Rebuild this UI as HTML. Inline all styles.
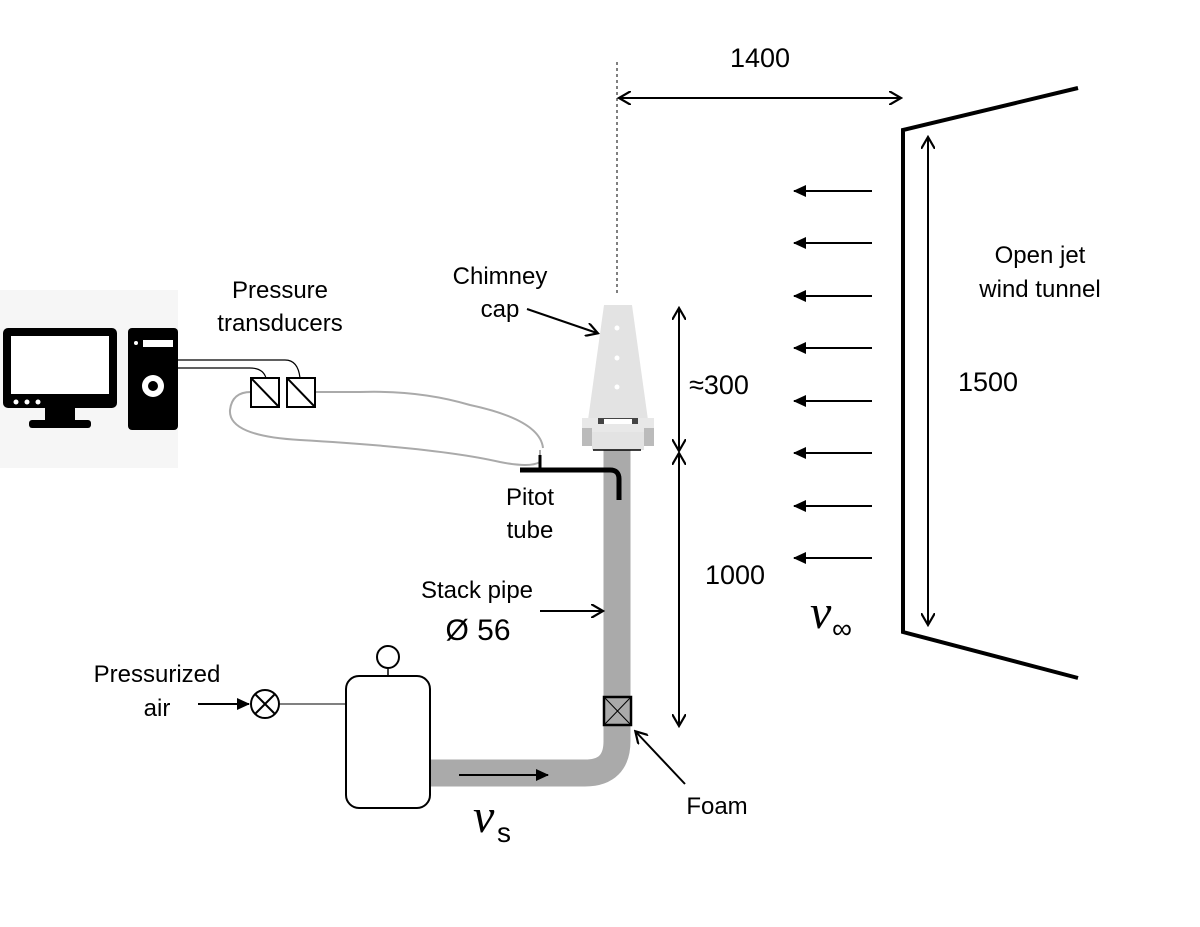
<!DOCTYPE html>
<html><head><meta charset="utf-8"><style>body{margin:0;background:#fff}svg{display:block}</style></head><body>
<svg width="1200" height="927" viewBox="0 0 1200 927" font-family="Liberation Sans, sans-serif" font-size="24">
<defs>
<marker id="a" markerWidth="14" markerHeight="14" refX="11" refY="7" orient="auto-start-reverse" markerUnits="userSpaceOnUse"><path d="M0,0 L12,7 L0,14" fill="none" stroke="#000" stroke-width="2.2"/></marker>
<marker id="f" markerWidth="14" markerHeight="12" refX="12" refY="6" orient="auto" markerUnits="userSpaceOnUse"><path d="M0,0 L13,6 L0,12Z" fill="#000"/></marker>
</defs>
<rect x="0" y="290" width="178" height="178" fill="#f6f6f6"/>
<rect x="3" y="328" width="114" height="80" rx="5" fill="#000"/>
<rect x="11" y="336" width="98" height="58" fill="#fff"/>
<circle cx="16" cy="402" r="2.5" fill="#fff"/><circle cx="27" cy="402" r="2.5" fill="#fff"/><circle cx="38" cy="402" r="2.5" fill="#fff"/>
<rect x="45" y="408" width="30" height="14" fill="#000"/>
<rect x="29" y="420" width="62" height="8" rx="3" fill="#000"/>
<rect x="128" y="328" width="50" height="102" rx="4" fill="#000"/>
<rect x="143" y="340" width="30" height="7" fill="#fff"/>
<circle cx="136" cy="343" r="2" fill="#fff"/>
<circle cx="153" cy="386" r="11" fill="#fff"/><circle cx="153" cy="386" r="5" fill="#000"/>
<path d="M178,360 H285 Q298,360 300,378" fill="none" stroke="#000" stroke-width="1.2"/>
<path d="M178,368 H250 Q263,368 266,378" fill="none" stroke="#000" stroke-width="1.2"/>
<path d="M251,392 Q232,392 230,410 Q228,436 300,440 Q440,448 500,462 Q530,468 540,462 V450" fill="none" stroke="#aaa" stroke-width="2"/>
<path d="M315,392 Q330,392 360,392 Q420,390 470,405 Q540,420 543,448" fill="none" stroke="#aaa" stroke-width="2"/>
<rect x="251" y="378" width="28" height="29" fill="#fff" stroke="#000" stroke-width="2"/>
<line x1="251" y1="378" x2="279" y2="407" stroke="#000" stroke-width="2"/>
<rect x="287" y="378" width="28" height="29" fill="#fff" stroke="#000" stroke-width="2"/>
<line x1="287" y1="378" x2="315" y2="407" stroke="#000" stroke-width="2"/>
<path d="M430,773 H585 Q617,773 617,741 V450" fill="none" stroke="#aaa" stroke-width="27"/>
<line x1="459" y1="775" x2="548" y2="775" stroke="#000" stroke-width="2" marker-end="url(#f)"/>
<rect x="604" y="697" width="27" height="28" fill="none" stroke="#000" stroke-width="2.5"/>
<path d="M604,697 L631,725 M631,697 L604,725" stroke="#000" stroke-width="1"/>
<path d="M520,470 H610 Q619,470 619,479 V500" fill="none" stroke="#000" stroke-width="5"/>
<line x1="540" y1="455" x2="540" y2="470" stroke="#000" stroke-width="3"/>
<line x1="617" y1="62" x2="617" y2="295" stroke="#000" stroke-dasharray="3,3" stroke-width="1"/>
<path d="M604,305 H632 L648,420 H588 Z" fill="#e3e3e3"/>
<circle cx="617" cy="328" r="2.5" fill="#fff"/><circle cx="617" cy="358" r="2.5" fill="#fff"/><circle cx="617" cy="387" r="2.5" fill="#fff"/>
<rect x="582" y="418" width="72" height="16" fill="#e8e8e8"/>
<rect x="598" y="418" width="40" height="6" fill="#444"/><rect x="604" y="419" width="28" height="5" fill="#fff"/>
<rect x="592" y="432" width="52" height="18" fill="#e3e3e3"/>
<rect x="582" y="428" width="10" height="18" fill="#bbb"/><rect x="644" y="428" width="10" height="18" fill="#bbb"/>
<line x1="593" y1="450" x2="641" y2="450" stroke="#000" stroke-width="1.5"/>
<rect x="346" y="676" width="84" height="132" rx="13" fill="#fff" stroke="#000" stroke-width="2"/>
<circle cx="388" cy="657" r="11" fill="#fff" stroke="#000" stroke-width="2"/>
<line x1="388" y1="668" x2="388" y2="676" stroke="#000" stroke-width="1.5"/>
<line x1="280" y1="704" x2="346" y2="704" stroke="#000" stroke-width="1"/>
<circle cx="265" cy="704" r="14" fill="#fff" stroke="#000" stroke-width="2"/>
<path d="M255,694 L275,714 M275,694 L255,714" stroke="#000" stroke-width="2"/>
<line x1="198" y1="704" x2="249" y2="704" stroke="#000" stroke-width="2" marker-end="url(#f)"/>
<line x1="620" y1="98" x2="900" y2="98" stroke="#000" stroke-width="2" marker-start="url(#a)" marker-end="url(#a)"/>
<line x1="679" y1="309" x2="679" y2="450" stroke="#000" stroke-width="2" marker-start="url(#a)" marker-end="url(#a)"/>
<line x1="679" y1="454" x2="679" y2="725" stroke="#000" stroke-width="2" marker-start="url(#a)" marker-end="url(#a)"/>
<line x1="928" y1="138" x2="928" y2="624" stroke="#000" stroke-width="2" marker-start="url(#a)" marker-end="url(#a)"/>
<path d="M1078,88 L903,130 V632 L1078,678" fill="none" stroke="#000" stroke-width="4"/>
<g stroke="#000" stroke-width="2">
<line x1="872" y1="191" x2="794" y2="191" marker-end="url(#f)"/>
<line x1="872" y1="243" x2="794" y2="243" marker-end="url(#f)"/>
<line x1="872" y1="296" x2="794" y2="296" marker-end="url(#f)"/>
<line x1="872" y1="348" x2="794" y2="348" marker-end="url(#f)"/>
<line x1="872" y1="401" x2="794" y2="401" marker-end="url(#f)"/>
<line x1="872" y1="453" x2="794" y2="453" marker-end="url(#f)"/>
<line x1="872" y1="506" x2="794" y2="506" marker-end="url(#f)"/>
<line x1="872" y1="558" x2="794" y2="558" marker-end="url(#f)"/>
</g>
<line x1="527" y1="309" x2="597" y2="333" stroke="#000" stroke-width="2" marker-end="url(#a)"/>
<line x1="540" y1="611" x2="602" y2="611" stroke="#000" stroke-width="2" marker-end="url(#a)"/>
<line x1="685" y1="784" x2="636" y2="732" stroke="#000" stroke-width="2" marker-end="url(#a)"/>
<g fill="#000">
<text x="760" y="67" style="font-size:27px" text-anchor="middle">1400</text>
<text x="719" y="394" style="font-size:27px" text-anchor="middle">≈300</text>
<text x="735" y="584" style="font-size:27px" text-anchor="middle">1000</text>
<text x="988" y="391" style="font-size:27px" text-anchor="middle">1500</text>
<text x="1040" y="263" text-anchor="middle">Open jet</text>
<text x="1040" y="297" text-anchor="middle">wind tunnel</text>
<text x="500" y="284" text-anchor="middle">Chimney</text>
<text x="500" y="317" text-anchor="middle">cap</text>
<text x="280" y="298" text-anchor="middle">Pressure</text>
<text x="280" y="331" text-anchor="middle">transducers</text>
<text x="530" y="505" text-anchor="middle">Pitot</text>
<text x="530" y="538" text-anchor="middle">tube</text>
<text x="477" y="598" text-anchor="middle">Stack pipe</text>
<text x="478" y="640" style="font-size:30px" text-anchor="middle">Ø 56</text>
<text x="157" y="682" text-anchor="middle">Pressurized</text>
<text x="157" y="716" text-anchor="middle">air</text>
<text x="717" y="814" text-anchor="middle">Foam</text>
<text x="810" y="628" style="font-family:'Liberation Serif',serif;font-style:italic;font-size:48px">v</text>
<text x="832" y="638" style="font-size:28px">∞</text>
<text x="473" y="832" style="font-family:'Liberation Serif',serif;font-style:italic;font-size:48px">v</text>
<text x="497" y="842" style="font-size:28px">s</text>
</g>
</svg>
</body></html>
